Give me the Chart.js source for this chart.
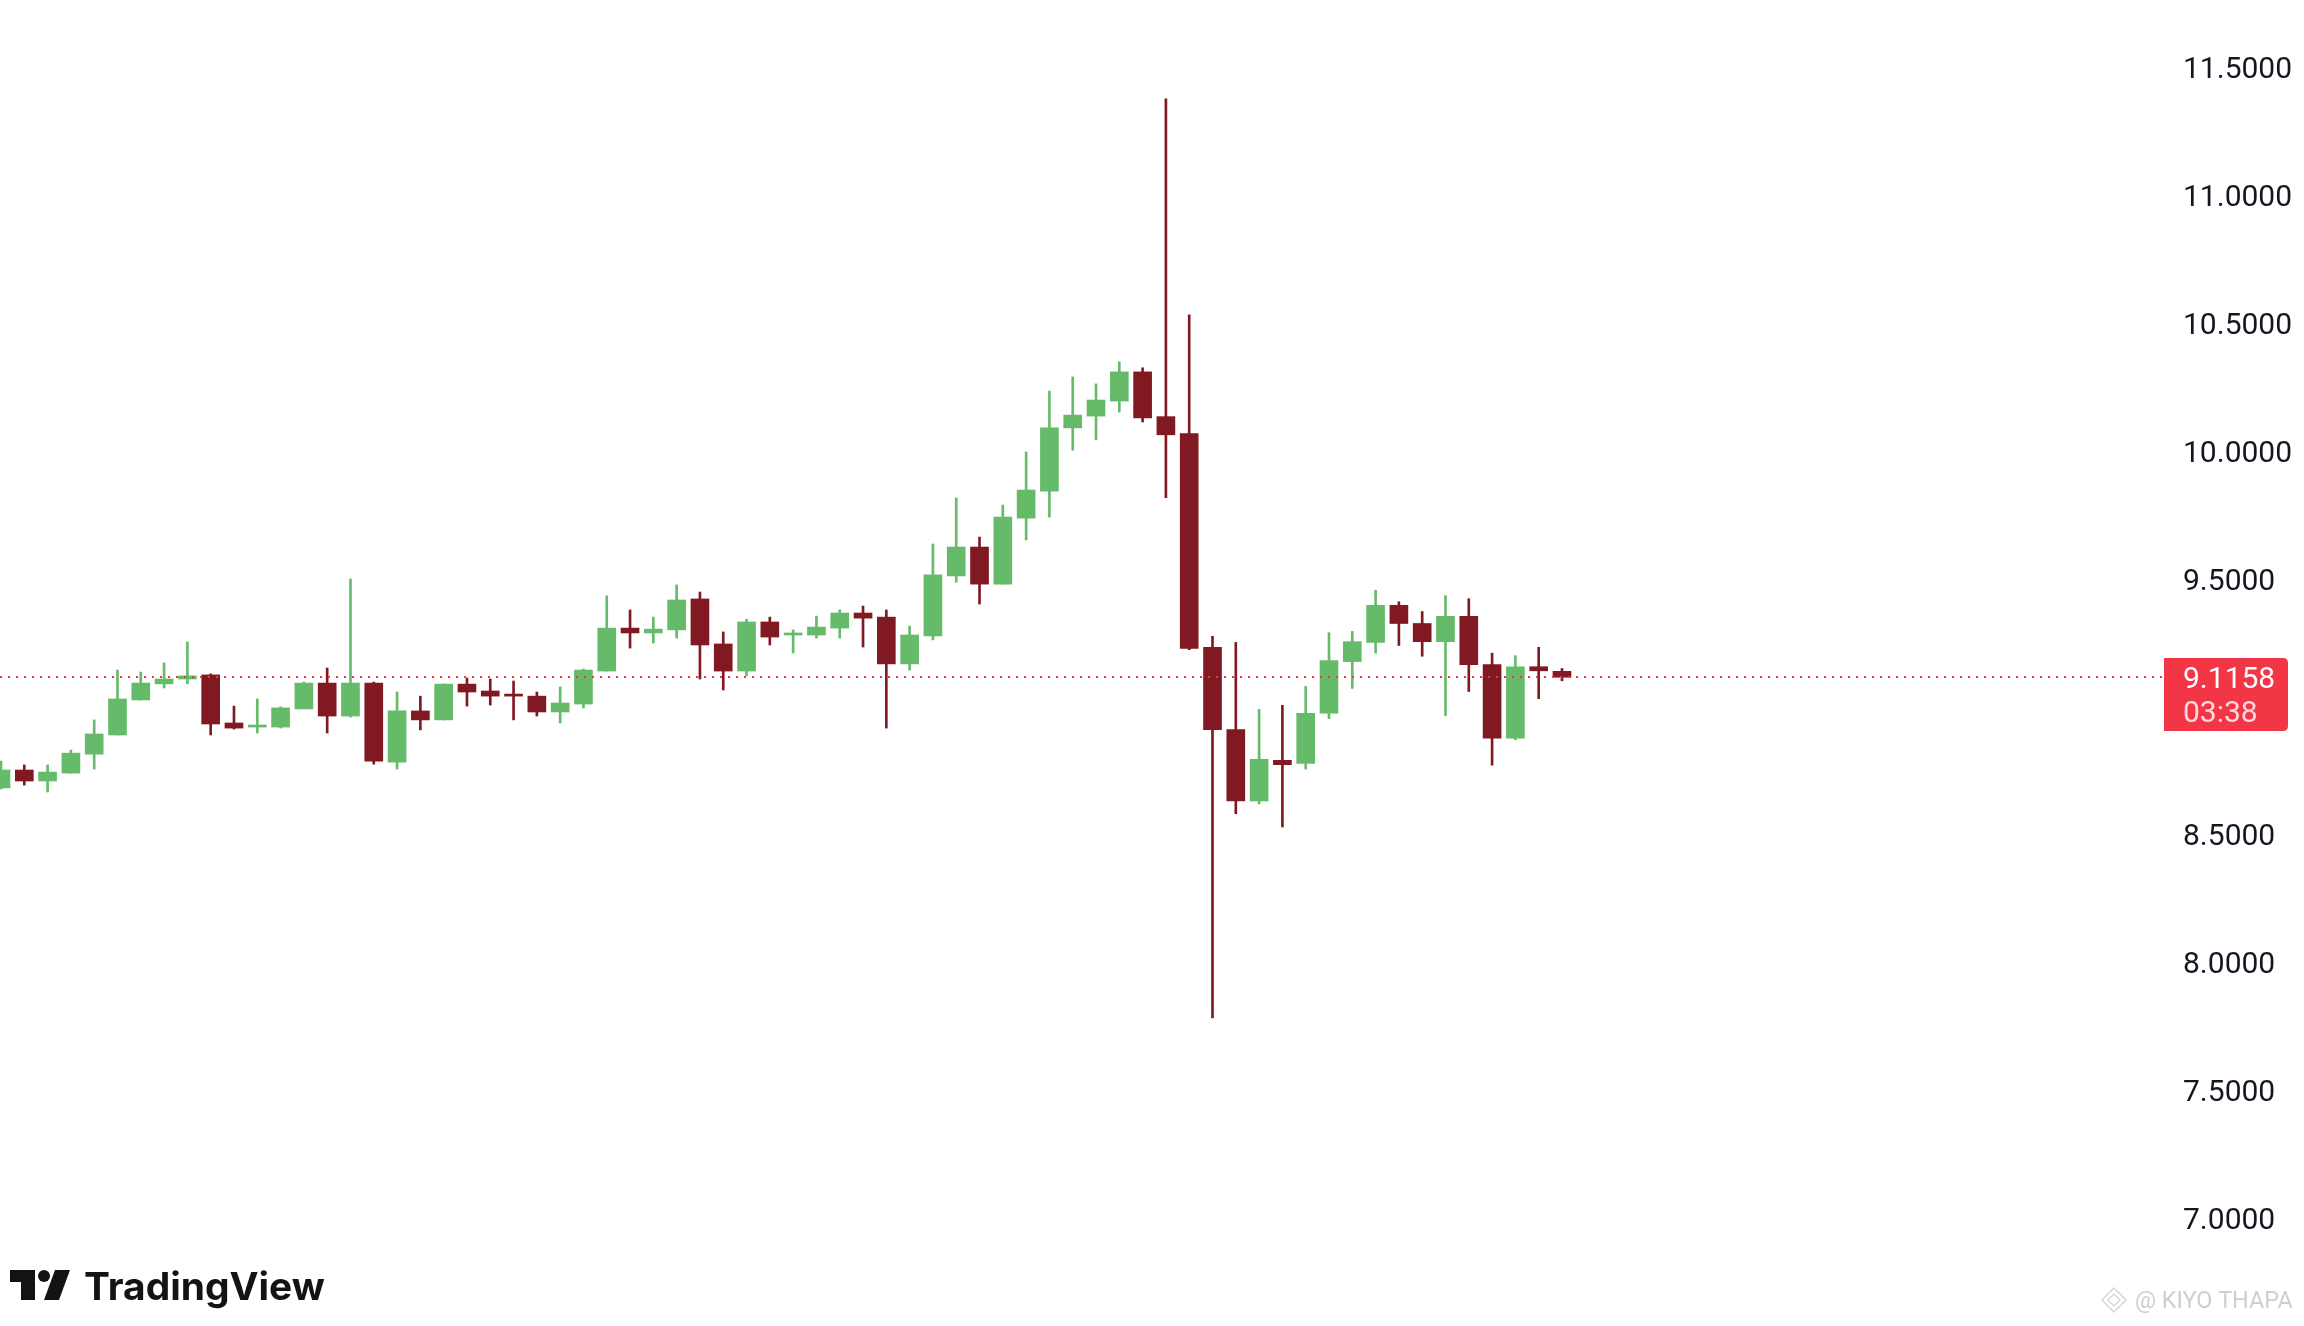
<!DOCTYPE html>
<html>
<head>
<meta charset="utf-8">
<script src="https://cdn.jsdelivr.net/npm/chart.js@4.4.1/dist/chart.umd.min.js"></script>
<style>
    html, body { margin: 0; padding: 0; background: #ffffff; }
    #contenedor { width: 2304px; height: 1326px; position: relative; }
</style>
</head>
<body>
<div id="contenedor"><canvas id="velasChart" width="2304" height="1326"></canvas></div>
<script>
// Velas (apertura, maximo, minimo, cierre)
var aperturas = [8.683, 8.753, 8.710, 8.741, 8.815, 8.890, 9.027, 9.090, 9.109, 9.125,
    8.937, 8.921, 8.921, 8.992, 9.093, 8.964, 9.093, 8.784, 8.984, 8.949,
    9.089, 9.062, 9.050, 9.042, 8.980, 9.011, 9.140, 9.308, 9.289, 9.301,
    9.422, 9.246, 9.140, 9.332, 9.281, 9.281, 9.308, 9.367, 9.351, 9.168,
    9.277, 9.512, 9.625, 9.480, 9.738, 9.844, 10.091, 10.137, 10.196, 10.310,
    10.135, 10.069, 9.233, 8.911, 8.632, 8.791, 8.779, 8.975, 9.177, 9.252,
    9.397, 9.326, 9.255, 9.354, 9.165, 8.878, 9.157, 9.139];
var maximos = [8.788, 8.773, 8.773, 8.831, 8.949, 9.144, 9.136, 9.172, 9.254, 9.129,
    9.003, 9.031, 9.000, 9.097, 9.152, 9.500, 9.097, 9.058, 9.042, 9.089,
    9.113, 9.109, 9.101, 9.058, 9.078, 9.148, 9.434, 9.379, 9.351, 9.477,
    9.449, 9.293, 9.343, 9.351, 9.301, 9.355, 9.379, 9.394, 9.379, 9.316,
    9.637, 9.817, 9.664, 9.789, 9.997, 10.235, 10.290, 10.263, 10.349, 10.326,
    11.378, 10.533, 9.276, 9.252, 8.990, 9.006, 9.080, 9.290, 9.295, 9.456,
    9.411, 9.373, 9.435, 9.423, 9.210, 9.200, 9.233, 9.150];
var minimos = [8.679, 8.694, 8.667, 8.741, 8.757, 8.890, 9.027, 9.074, 9.090, 8.890,
    8.913, 8.898, 8.917, 8.992, 8.898, 8.960, 8.776, 8.757, 8.910, 8.949,
    9.003, 9.007, 8.949, 8.964, 8.937, 8.996, 9.140, 9.230, 9.250, 9.269,
    9.109, 9.066, 9.121, 9.242, 9.211, 9.269, 9.269, 9.234, 8.917, 9.144,
    9.262, 9.488, 9.402, 9.480, 9.653, 9.742, 10.004, 10.044, 10.153, 10.114,
    9.818, 9.224, 7.784, 8.582, 8.620, 8.530, 8.757, 8.954, 9.072, 9.210,
    9.240, 9.198, 8.966, 9.060, 8.772, 8.871, 9.032, 9.102];
var cierres = [8.753, 8.710, 8.745, 8.819, 8.894, 9.031, 9.093, 9.109, 9.121, 8.933,
    8.917, 8.929, 8.996, 9.093, 8.964, 9.093, 8.788, 8.984, 8.949, 9.089,
    9.058, 9.042, 9.042, 8.980, 9.015, 9.144, 9.308, 9.289, 9.304, 9.418,
    9.242, 9.140, 9.332, 9.273, 9.289, 9.312, 9.367, 9.347, 9.168, 9.281,
    9.516, 9.625, 9.480, 9.742, 9.848, 10.091, 10.141, 10.200, 10.310, 10.130,
    10.064, 9.229, 8.911, 8.632, 8.795, 8.774, 8.975, 9.181, 9.255, 9.397,
    9.326, 9.255, 9.354, 9.165, 8.878, 9.157, 9.141, 9.1158];

// Etiquetas del eje de precios (9.0000 queda tapada por la etiqueta del ultimo precio)
var marcasPrecio = [7.0, 7.5, 8.0, 8.5, 9.5, 10.0, 10.5, 11.0, 11.5];
var cuentaAtras = '03:38';

var verde = 'rgb(102, 187, 106)';
var rojo = 'rgb(128, 25, 34)';
var rojoEtiqueta = '#f23645';

var indices = aperturas.map(function (v, i) { return i; });
var colores = indices.map(function (i) {
    return cierres[i] >= aperturas[i] ? verde : rojo;
});

var ultimoPrecio = cierres[cierres.length - 1];

var marcador = {
    id: 'marcador',
    afterDatasetsDraw: function (chart) {
        var c = chart.ctx;
        var area = chart.chartArea;
        var y = Math.round(chart.scales.y.getPixelForValue(ultimoPrecio));

        c.save();
        // linea punteada del ultimo precio
        c.strokeStyle = rojoEtiqueta;
        c.lineWidth = 2;
        c.setLineDash([2, 6]);
        c.beginPath();
        c.moveTo(area.left, y);
        c.lineTo(area.right, y);
        c.stroke();
        c.setLineDash([]);

        // etiqueta con precio y cuenta atras
        var x0 = area.right, x1 = area.right + 124, y0 = y - 19, y1 = y + 54, r = 5;
        c.fillStyle = rojoEtiqueta;
        c.beginPath();
        c.moveTo(x0, y0);
        c.lineTo(x1 - r, y0);
        c.quadraticCurveTo(x1, y0, x1, y0 + r);
        c.lineTo(x1, y1 - r);
        c.quadraticCurveTo(x1, y1, x1 - r, y1);
        c.lineTo(x0, y1);
        c.closePath();
        c.fill();

        c.font = '30px Roboto';
        c.textAlign = 'left';
        c.textBaseline = 'middle';
        c.fillStyle = '#ffffff';
        c.fillText(ultimoPrecio.toFixed(4), area.right + 19, y + 3);
        c.fillStyle = 'rgba(255, 255, 255, 0.82)';
        c.fillText(cuentaAtras, area.right + 19, y + 37);
        c.restore();
    },
    afterDraw: function (chart) {
        var c = chart.ctx;
        c.save();
        // logo TradingView
        c.fillStyle = '#131313';
        c.fillRect(10, 1270, 25, 12);
        c.fillRect(21, 1270, 14, 30);
        c.beginPath();
        c.arc(44, 1276, 6, 0, Math.PI * 2);
        c.fill();
        c.beginPath();
        c.moveTo(55, 1270);
        c.lineTo(70, 1270);
        c.lineTo(59, 1300);
        c.lineTo(44, 1300);
        c.closePath();
        c.fill();

        c.font = 'bold 40px Inter';
        var ancho = c.measureText('TradingView').width;
        var tam = 40 * 241 / ancho;
        c.font = 'bold ' + tam.toFixed(1) + 'px Inter';
        c.textAlign = 'left';
        c.textBaseline = 'alphabetic';
        c.fillText('TradingView', 84, 1300);

        // marca de agua
        c.fillStyle = '#cfcfcf';
        c.strokeStyle = '#d6d6d6';
        c.lineWidth = 1.5;
        c.beginPath();
        c.moveTo(2114, 1288);
        c.lineTo(2126, 1300);
        c.lineTo(2114, 1312);
        c.lineTo(2102, 1300);
        c.closePath();
        c.stroke();
        c.beginPath();
        c.moveTo(2114, 1294);
        c.lineTo(2120, 1300);
        c.lineTo(2114, 1306);
        c.lineTo(2108, 1300);
        c.closePath();
        c.stroke();
        c.font = '22px Roboto';
        var anchoMarca = c.measureText('@ KIYO THAPA').width;
        var tamMarca = 22 * 158 / anchoMarca;
        c.font = tamMarca.toFixed(1) + 'px Roboto';
        c.fillText('@ KIYO THAPA', 2135, 1308);
        c.restore();
    }
};

var ctx = document.getElementById('velasChart').getContext('2d');
new Chart(ctx, {
    type: 'bar',
    data: {
        datasets: [{
            label: 'cuerpo',
            data: indices.map(function (i) { return { x: i, y: [aperturas[i], cierres[i]] }; }),
            backgroundColor: colores,
            borderWidth: 0,
            barThickness: 18,
            minBarLength: 1,
            grouped: false
        }, {
            label: 'mecha',
            data: indices.map(function (i) { return { x: i, y: [minimos[i], maximos[i]] }; }),
            backgroundColor: colores,
            borderWidth: 0,
            barThickness: 2,
            grouped: false
        }]
    },
    options: {
        responsive: false,
        animation: false,
        devicePixelRatio: 1,
        layout: { padding: { top: 0, right: 0, bottom: 76, left: 0 } },
        plugins: {
            legend: { display: false },
            tooltip: { enabled: false }
        },
        scales: {
            x: {
                type: 'linear',
                display: false,
                offset: false,
                min: -0.0429,
                max: 92.84
            },
            y: {
                position: 'right',
                min: 6.8759,
                max: 11.7644,
                grid: { display: false, drawTicks: false, tickLength: 0 },
                border: { display: false },
                afterBuildTicks: function (scale) {
                    scale.ticks = marcasPrecio.map(function (v) { return { value: v }; });
                },
                afterFit: function (scale) {
                    scale.width = 140;
                    scale.paddingTop = 0;
                    scale.paddingBottom = 0;
                },
                ticks: {
                    padding: 19,
                    labelOffset: 3,
                    crossAlign: 'near',
                    color: '#131722',
                    font: { family: 'Roboto', size: 30 },
                    callback: function (v) { return Number(v).toFixed(4); }
                }
            }
        }
    },
    plugins: [marcador]
});
</script>
</body>
</html>
